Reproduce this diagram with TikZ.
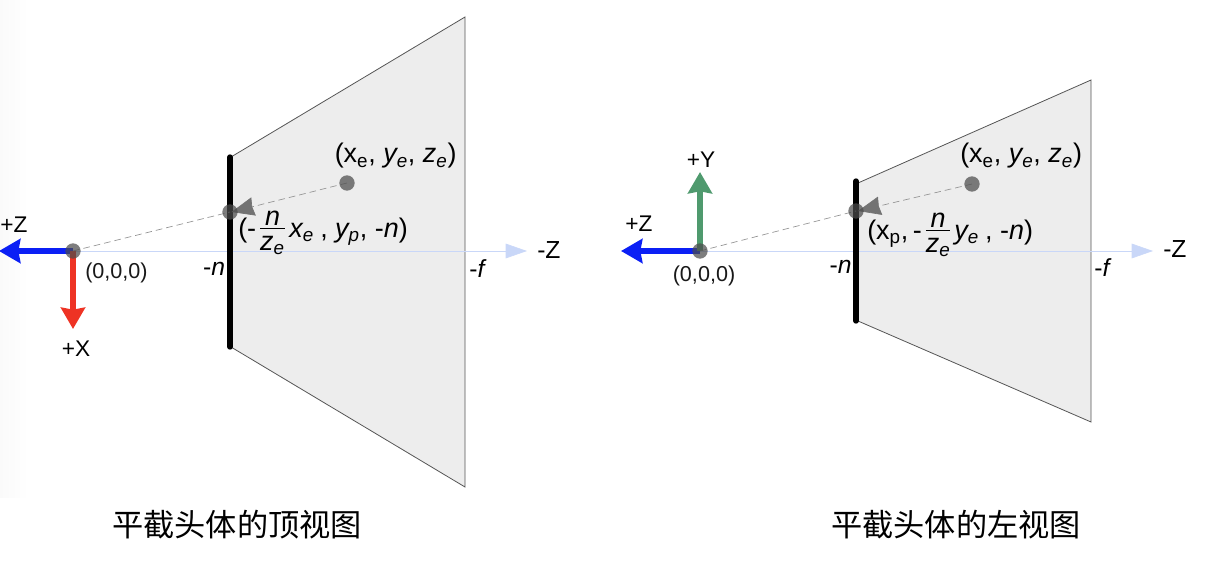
\documentclass[tikz,border=0pt]{standalone}
\usepackage{fontspec}
\setmainfont{Liberation Sans}
\newfontfamily\cjk{Noto Sans CJK SC}
\usetikzlibrary{arrows.meta}
\definecolor{fr}{HTML}{EDEDED}
\definecolor{frl}{HTML}{555555}
\definecolor{axl}{HTML}{C9D7F8}
\definecolor{bl}{HTML}{0B1FF5}
\definecolor{rd}{HTML}{EE3324}
\definecolor{gn}{HTML}{4F9A6E}
\definecolor{strip}{HTML}{FAFAFA}
\newcommand{\frc}[2]{\raisebox{-2pt}{$\vcenter{\offinterlineskip\halign{\hfil##\hfil\cr\itshape #1\cr\noalign{\kern2pt\hrule\kern5.5pt}\itshape #2\cr}}$}}
\newcommand{\zee}{z\textsubscript{e}}
\tikzset{
  x=0.75pt,y=-0.75pt,
  frustum/.style={draw=frl,fill=fr,line width=0.6pt},
  nearp/.style={line width=4pt,line cap=round,black},
  axisline/.style={draw=axl,line width=0.5pt,-{Triangle[length=16pt,width=11pt,fill=axl]}},
  axarrow/.style={line width=4.4pt,-{Stealth[length=16pt,width=18pt,inset=1.5pt]}},
  dashline/.style={draw=gray!85,line width=0.5pt,dash pattern=on 5pt off 3pt},
  projarrow/.style={dashline,-{Stealth[length=17pt,width=14pt,inset=1pt,fill=black!55,color=black!55]}},
  dotm/.style={circle,fill=black!70,fill opacity=0.72,inner sep=0pt,minimum size=11.5pt},
  ptlab/.style={font=\fontsize{20.2}{24}\selectfont,inner sep=0pt,text=black},
  lab/.style={font=\fontsize{17}{20}\selectfont,inner sep=0pt,text=black},
  boundlab/.style={font=\fontsize{18.5}{22}\selectfont,inner sep=0pt,text=black},
  smalllab/.style={font=\fontsize{16.2}{19}\selectfont,inner sep=0pt,text=black!90},
  capt/.style={font=\cjk\fontsize{23.4}{27}\selectfont,inner sep=0pt,text=black},
}
\begin{document}
\begin{tikzpicture}
\useasboundingbox (0,0) rectangle (1206,574);
\shade[left color=strip,right color=white,draw=none] (0,0) rectangle (28,497);
% Left panel
\coordinate (l1) at (231,157);
\coordinate (l2) at (465,17);
\coordinate (l3) at (465,487);
\coordinate (l4) at (231,347);
\coordinate (lztip) at (527,251);
\coordinate (lbz) at (-1,251);
\coordinate (lrx) at (73,329);
\draw[frustum] (l1) -- (l2) -- (l3) -- (l4) -- cycle;
\coordinate (lo) at (73,251);
\coordinate (lp) at (230,212);
\coordinate (le) at (347,183);
\draw[axisline] (lo) -- (lztip);
\draw[nearp] (230,157) coordinate (ln1) -- (230,347) coordinate (ln2);
\draw[axarrow,bl] (lo) -- (lbz);
\draw[axarrow,rd] (lo) -- (lrx);
\draw[dashline] (lo) -- (lp);
\draw[projarrow] (le) -- (231.5,212);
\node[dotm] (lod) at (lo) {};
\node[dotm] (lpd) at (lp) {};
\node[dotm] (led) at (le) {};
\node[lab,anchor=base west] (t1) at (0,232) {+Z};
\node[lab,anchor=base] (t2) at (76,356) {+X};
\node[smalllab,anchor=base west] (t3) at (85,278) {(0,0,0)};
\node[boundlab,anchor=base] (t4) at (214,275) {-\textit{n}};
\node[boundlab,anchor=base] (t5) at (478,277) {-\textit{f}};
\node[boundlab,anchor=base west] (t6) at (537,258) {-Z};
\node[ptlab,anchor=base west] (t7) at (334.5,163) {(x\textsubscript{e}, \textit{y\textsubscript{e}}, \textit{z\textsubscript{e}})};
\node[ptlab,anchor=base west] (t8) at (238,237) {(-\kern3pt\frc{n}{\zee}\kern3.5pt\textit{x\textsubscript{e}} \kern-1pt, \textit{y\textsubscript{p}}, -\textit{n})};
\node[capt,anchor=base] (c1) at (237,536) {平截头体的顶视图};
% Right panel
\coordinate (r1) at (858,183);
\coordinate (r2) at (1091,80);
\coordinate (r3) at (1091,422);
\coordinate (r4) at (858,321);
\coordinate (rztip) at (1153,251);
\coordinate (rbz) at (621,251);
\coordinate (rgy) at (700,172);
\draw[frustum] (r1) -- (r2) -- (r3) -- (r4) -- cycle;
\coordinate (ro) at (700,251);
\coordinate (rp) at (856,211);
\coordinate (re) at (972,184);
\draw[axisline] (ro) -- (rztip);
\draw[nearp] (856,181) coordinate (rn1) -- (856,321) coordinate (rn2);
\draw[axarrow,bl] (ro) -- (rbz);
\draw[axarrow,gn] (ro) -- (rgy);
\draw[dashline] (ro) -- (rp);
\draw[projarrow] (re) -- (858,211);
\node[dotm] (rod) at (ro) {};
\node[dotm] (rpd) at (rp) {};
\node[dotm] (red) at (re) {};
\node[lab,anchor=base] (u1) at (639,231) {+Z};
\node[lab,anchor=base] (u2) at (701,167) {+Y};
\node[smalllab,anchor=base] (u3) at (704,281) {(0,0,0)};
\node[boundlab,anchor=base] (u4) at (840.5,273) {-\textit{n}};
\node[boundlab,anchor=base] (u5) at (1103,276) {-\textit{f}};
\node[boundlab,anchor=base west] (u6) at (1163,257) {-Z};
\node[ptlab,anchor=base west] (u7) at (960,163) {(x\textsubscript{e}, \textit{y\textsubscript{e}}, \textit{z\textsubscript{e}})};
\node[ptlab,anchor=base west] (u8) at (867,239) {(x\textsubscript{p},\,-\kern3pt\frc{n}{\zee}\kern3pt\textit{y\textsubscript{e}} \kern-1pt, -\textit{n})};
\node[capt,anchor=base] (c2) at (956,536) {平截头体的左视图};
\end{tikzpicture}
\end{document}
